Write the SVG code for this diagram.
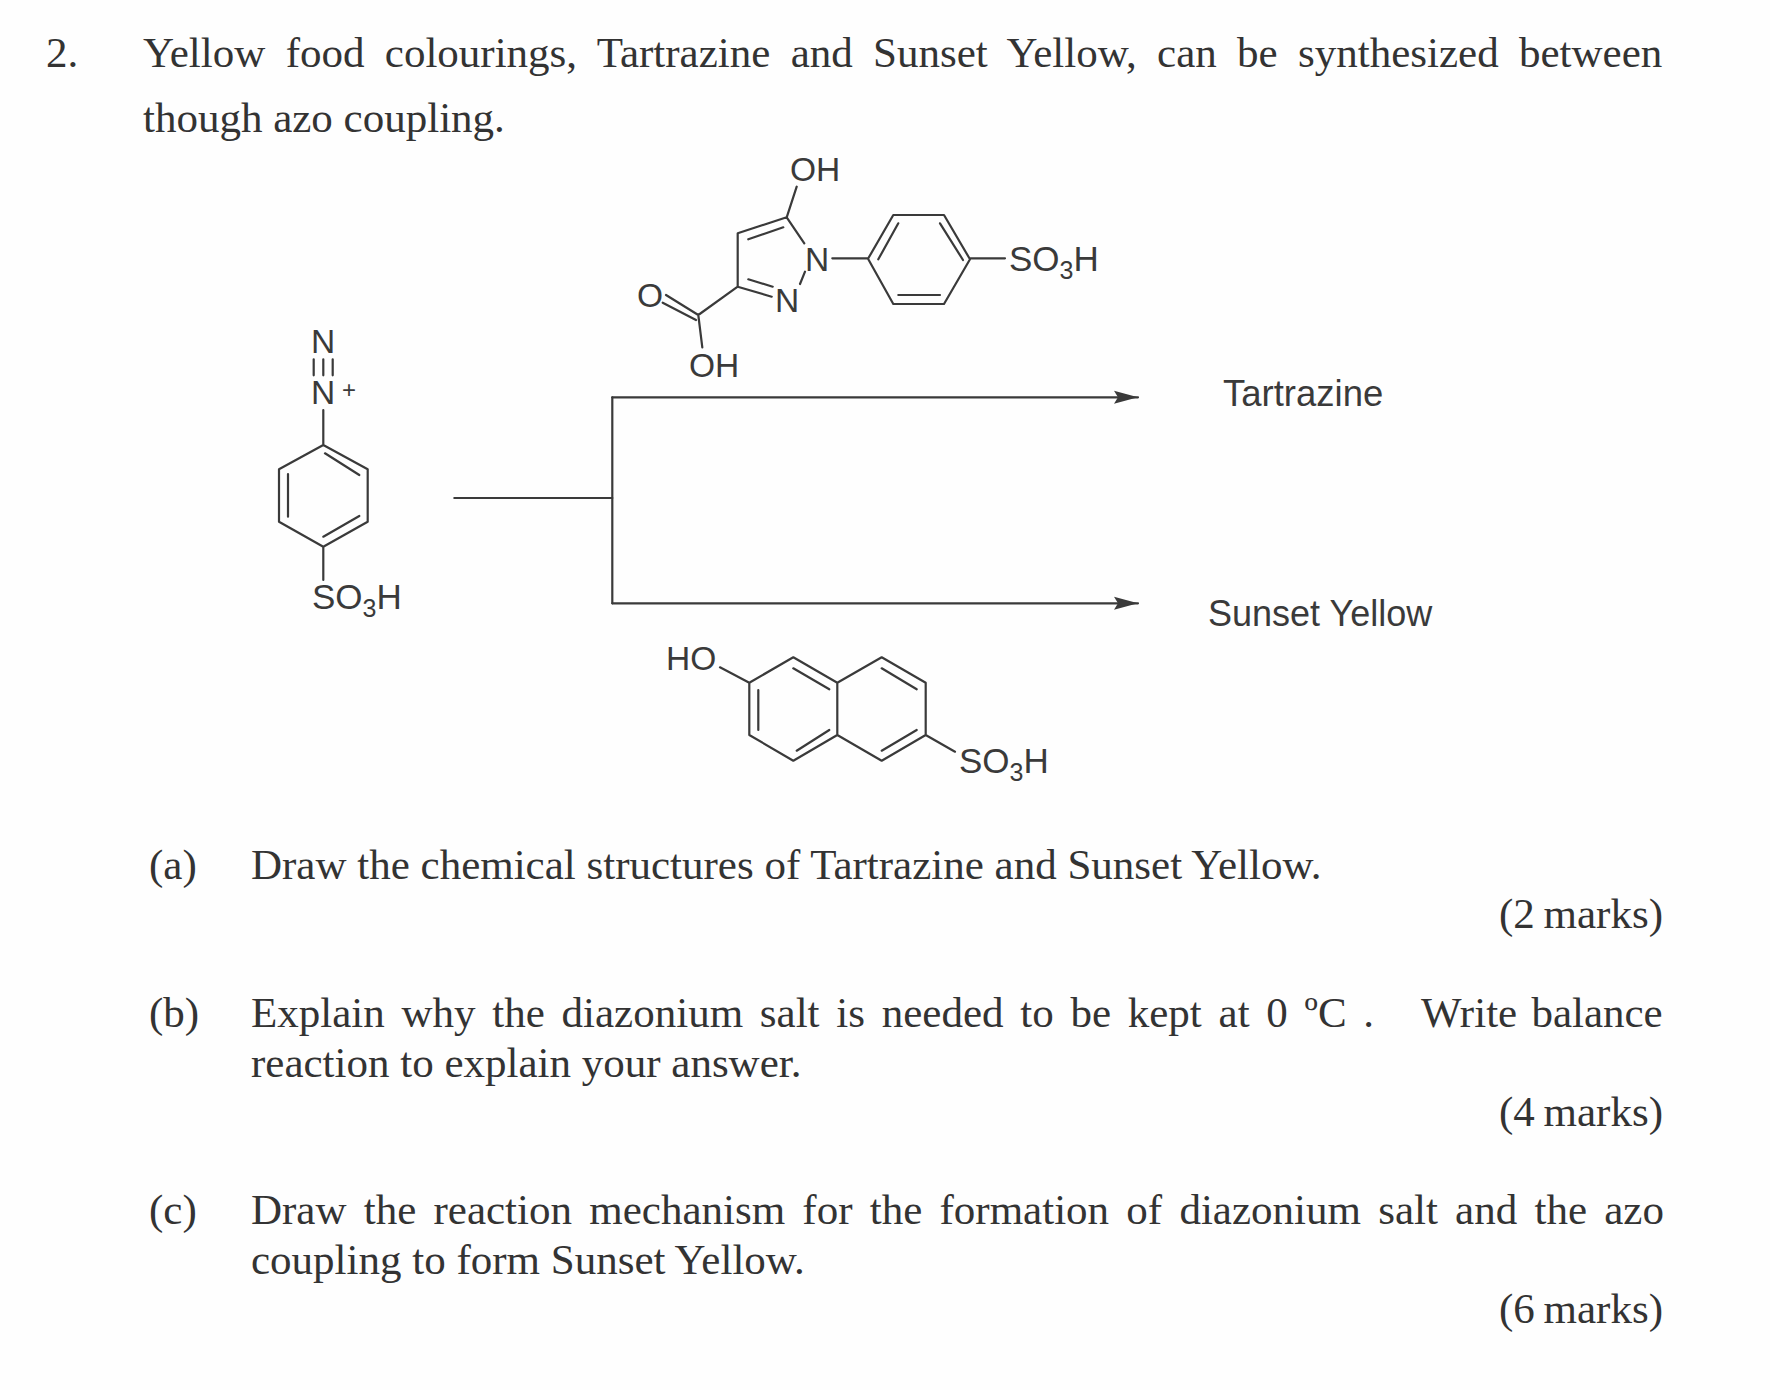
<svg xmlns="http://www.w3.org/2000/svg" width="1770" height="1390" viewBox="0 0 1770 1390">
<style>
.t{font-family:"Liberation Serif",serif;font-size:43px;fill:#333}
.c{font-family:"Liberation Sans",sans-serif;font-size:33.500px;fill:#3a3a3a}
.l{font-family:"Liberation Sans",sans-serif;font-size:36.500px;fill:#3a3a3a}
.f{font-size:35px}
.b{stroke:#3a3a3a;stroke-width:2.200;fill:none;stroke-linecap:round;stroke-linejoin:round}
.s{font-size:25px}
</style>
<defs><marker id="ah" markerUnits="userSpaceOnUse" markerWidth="25" markerHeight="16" refX="24" refY="8" orient="auto"><path d="M0 1.500L24 8L0 14.500L4 8Z" fill="#3a3a3a"/></marker></defs>
<rect width="1770" height="1390" fill="#fefefe"/>
<g id="question">
<text class="t" x="46" y="67">2.</text>
<text class="t" x="143" y="67" word-spacing="9.600">Yellow food colourings, Tartrazine and Sunset Yellow, can be synthesized between</text>
<text class="t" x="143" y="132">though azo coupling.</text>
<text class="t" x="149" y="879">(a)</text>
<text class="t" x="251" y="879">Draw the chemical structures of Tartrazine and Sunset Yellow.</text>
<text class="t" x="1499" y="928" word-spacing="-2">(2 marks)</text>
<text class="t" x="149" y="1027">(b)</text>
<text class="t" x="251" y="1027" word-spacing="6">Explain why the diazonium salt is needed to be kept at 0 ºC .</text>
<text class="t" x="1421" y="1027" word-spacing="3.500">Write balance</text>
<text class="t" x="251" y="1077">reaction to explain your answer.</text>
<text class="t" x="1499" y="1126" word-spacing="-2">(4 marks)</text>
<text class="t" x="149" y="1224">(c)</text>
<text class="t" x="251" y="1224" word-spacing="6.500">Draw the reaction mechanism for the formation of diazonium salt and the azo</text>
<text class="t" x="251" y="1274">coupling to form Sunset Yellow.</text>
<text class="t" x="1499" y="1323" word-spacing="-2">(6 marks)</text>
</g>
<g id="diazonium">
<text class="c" x="311" y="353">N</text>
<text class="c" x="311" y="404">N</text>
<text class="c" x="342" y="398" style="font-size:24px">+</text>
<path class="b" d="M313.700 359.300V375.300M323.300 359.300V375.300M332.700 359.300V375.300M323.300 410V445M323.300 445L367.700 469.300V521.700L323.300 546.700L279 521.700V469.300ZM325 453.300L359.300 475M323.300 536.700L359.300 516M288 474V516.700M323.300 546.700V580"/>
<text class="c f" x="312" y="609">SO<tspan class="s" dy="8">3</tspan><tspan dy="-8">H</tspan></text>
</g>
<g id="pyrazole">
<text class="c" x="790" y="181">OH</text>
<text class="c" x="637" y="307">O</text>
<text class="c" x="689" y="377">OH</text>
<text class="c" x="775" y="312">N</text>
<text class="c" x="805" y="271">N</text>
<path class="b" d="M796.700 186.700L786.700 217.300L737.700 233.300V286.700L771.700 296.700M786.700 217.300L804.300 243.300M748.300 239.300L783.300 227.300M748.300 279.300L772.700 286.700M805 271.700L800 284M737.700 286.700L698.300 315L666 295M696 320L662.700 302.700M698.300 315L702.300 347.300M832.300 258.300H868.300L893.300 215H944L970 259.300L944 304H893.300L868.300 259.300M878.300 259.300L898.300 223.300M940 223.300L963 260M898.300 295H940M970 258.300H1005"/>
<text class="c f" x="1009" y="271">SO<tspan class="s" dy="8">3</tspan><tspan dy="-8">H</tspan></text>
</g>
<g id="naphthol">
<text class="c" x="666" y="670">HO</text>
<path class="b" d="M720 667.300L749.300 682.700L793.300 657.300L837.300 682.700V735L793.300 760.700L749.300 735V682.700M837.300 682.700L881.700 657.300L925.700 682.700V735L881.700 760.700L837.300 735M758.300 690V730M793.300 668.300L829.300 689.300M796.700 750.700L829.300 730M881.700 668.300L916.700 689.300M881.700 750.700L916.700 730M925.700 735L955 751.700"/>
<text class="c f" x="959" y="773">SO<tspan class="s" dy="8">3</tspan><tspan dy="-8">H</tspan></text>
</g>
<g id="tartrazine"><text class="l" x="1223" y="406">Tartrazine</text></g>
<g id="sunset-yellow"><text class="l" x="1208" y="626" style="font-size:36px">Sunset Yellow</text></g>
<g id="connectors">
<path class="b" d="M454.300 498H612.300"/>
<path class="b" d="M612.300 397.300V603.300"/>
<path class="b" d="M612.300 397.300H1138" marker-end="url(#ah)"/>
<path class="b" d="M612.300 603.300H1138" marker-end="url(#ah)"/>
</g>
</svg>
